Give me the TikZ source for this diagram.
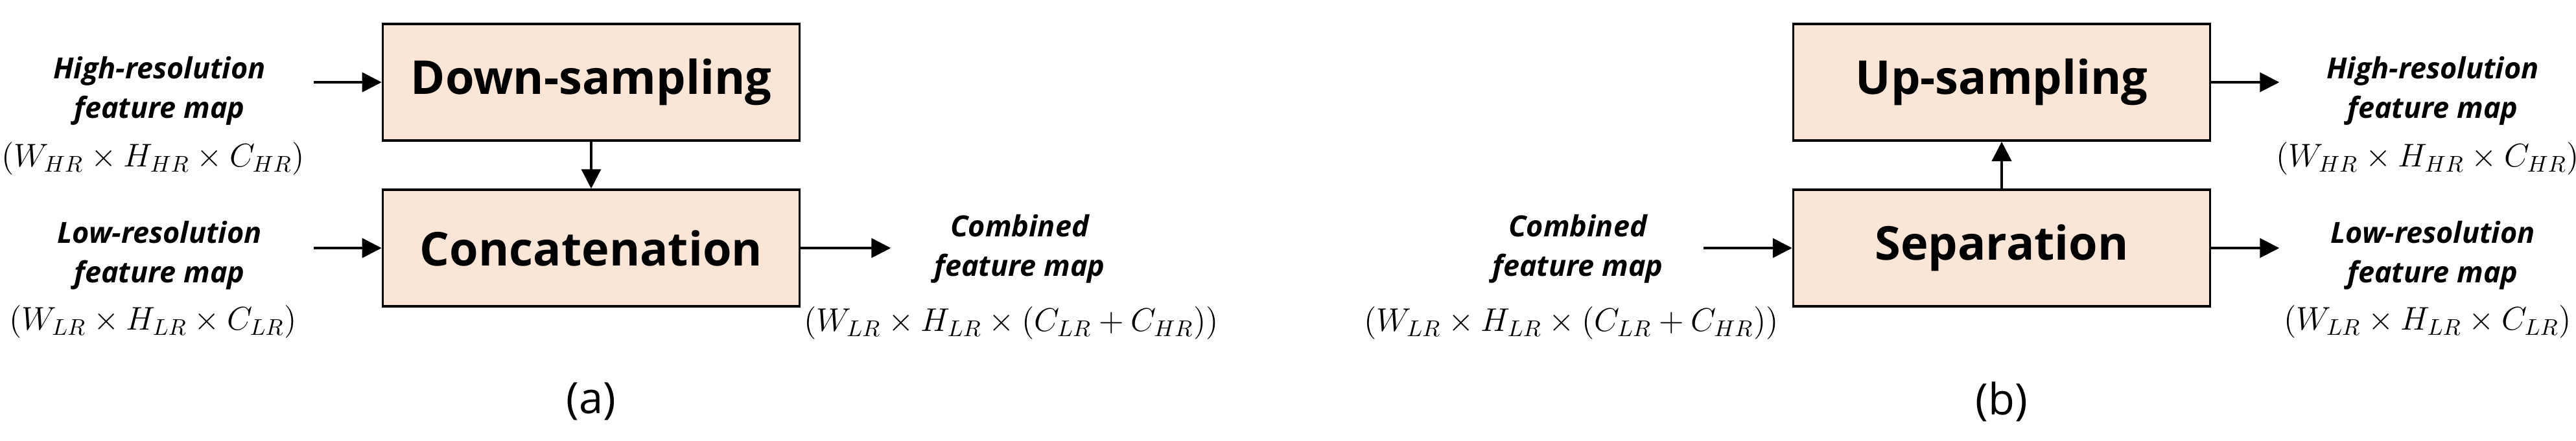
\documentclass[tikz,border=0pt]{standalone}
\usepackage[no-math]{fontspec}
\setmainfont{Open Sans}
\usetikzlibrary{arrows.meta,positioning}
\definecolor{peach}{HTML}{FBE5D6}
\tikzset{
	block/.style={draw, line width=1pt, fill=peach, minimum width=6.43cm, minimum height=1.8cm, font=\fontsize{20.5}{24}\selectfont\bfseries},
	lbl/.style={align=center, font=\fontsize{12.8}{17.4}\selectfont\bfseries\itshape},
	dim/.style={font=\fontsize{14}{16}\selectfont},
	flow/.style={line width=1pt, -{Triangle[length=0.3cm,width=0.3cm]}},
	tag/.style={font=\fontsize{19}{22}\selectfont}
}
\begin{document}
\begin{tikzpicture}
		\useasboundingbox (0,0) rectangle (39.74,6.8);
		% (a) concatenation
		\node[block] (down) at (9.12,5.53) {Down-sampling};
		\node[block] (concat) at (9.12,2.97) {Concatenation};
		\coordinate[left=1.05cm of down] (hrin);
		\coordinate[left=1.05cm of concat] (lrin);
		\coordinate[right=1.39cm of concat] (cbout);
		\node[lbl] (hrlbl) at (2.46,5.40) {High-resolution\\feature map};
		\node[dim] (hrdim) at (2.36,4.35) {$(W_{HR}\times H_{HR}\times C_{HR})$};
		\node[lbl] (lrlbl) at (2.46,2.86) {Low-resolution\\feature map};
		\node[dim] (lrdim) at (2.36,1.83) {$(W_{LR}\times H_{LR}\times C_{LR})$};
		\node[lbl] (cblbl) at (15.73,2.96) {Combined\\feature map};
		\node[dim] (cbdim) at (15.60,1.81) {$(W_{LR}\times H_{LR}\times(C_{LR}+C_{HR}))$};
		\draw[flow] (hrin) -- (down);
		\draw[flow] (lrin) -- (concat);
		\draw[flow] (down) -- (concat);
		\draw[flow] (concat) -- (cbout);
		\node[tag] (taga) at (9.12,0.60) {(a)};
		% (b) separation
		\node[block] (up) at (30.88,5.53) {Up-sampling};
		\node[block] (sep) at (30.88,2.97) {Separation};
		\coordinate[left=1.37cm of sep] (cbin);
		\coordinate[right=1.05cm of up] (hrout);
		\coordinate[right=1.05cm of sep] (lrout);
		\node[lbl] (cblbl2) at (24.34,2.96) {Combined\\feature map};
		\node[dim] (cbdim2) at (24.24,1.81) {$(W_{LR}\times H_{LR}\times(C_{LR}+C_{HR}))$};
		\node[lbl] (hrlbl2) at (37.53,5.40) {High-resolution\\feature map};
		\node[dim] (hrdim2) at (37.45,4.35) {$(W_{HR}\times H_{HR}\times C_{HR})$};
		\node[lbl] (lrlbl2) at (37.53,2.86) {Low-resolution\\feature map};
		\node[dim] (lrdim2) at (37.45,1.83) {$(W_{LR}\times H_{LR}\times C_{LR})$};
		\draw[flow] (cbin) -- (sep);
		\draw[flow] (sep) -- (up);
		\draw[flow] (up) -- (hrout);
		\draw[flow] (sep) -- (lrout);
		\node[tag] (tagb) at (30.88,0.60) {(b)};
\end{tikzpicture}
\end{document}
